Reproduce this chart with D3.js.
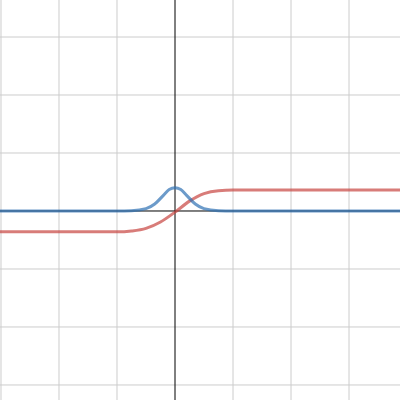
<!DOCTYPE html>
<html><head><meta charset="utf-8">
<script src="https://cdn.jsdelivr.net/npm/d3@7"></script>
<style>body{margin:0;background:#fff}</style>
</head><body><svg id="chart" width="400" height="400"></svg>
<script>
// values (x in grid units)
const blueX = [-3.1, -1.0, -0.75, -0.5, -0.35, -0.2, -0.1, 0, 0.1, 0.2, 0.35, 0.5, 0.75, 1.0, 4.0];
const blueY = [0, 0, 0.005, 0.04, 0.12, 0.27, 0.37, 0.40, 0.37, 0.27, 0.12, 0.04, 0.005, 0, 0];
const redX = [-3.1, -1.0, -0.75, -0.5, -0.25, 0, 0.25, 0.5, 0.75, 1.0, 4.0];
const redY = [-0.36, -0.36, -0.345, -0.30, -0.19, -0.02, 0.17, 0.30, 0.35, 0.36, 0.36];
const gridTicks = [-3, -2, -1, 1, 2, 3, 4];

const svg = d3.select('#chart');
const x = d3.scaleLinear().domain([-3.017, 3.879]).range([0, 400]);
const y = d3.scaleLinear().domain([-3.259, 3.638]).range([400, 0]);

svg.append('g').selectAll('line.gx').data(gridTicks).enter().append('line')
    .attr('x1', d => x(d)).attr('x2', d => x(d)).attr('y1', 0).attr('y2', 400)
    .attr('stroke', '#ccc').attr('stroke-width', 1);
svg.append('g').selectAll('line.gy').data(gridTicks).enter().append('line')
    .attr('y1', d => y(d)).attr('y2', d => y(d)).attr('x1', 0).attr('x2', 400)
    .attr('stroke', '#ccc').attr('stroke-width', 1);

// axes
svg.append('line').attr('x1', x(0)).attr('x2', x(0)).attr('y1', 0).attr('y2', 400).attr('stroke', '#000');
svg.append('line').attr('y1', y(0)).attr('y2', y(0)).attr('x1', 0).attr('x2', 400).attr('stroke', '#000');

const line = d3.line().x(d => x(d[0])).y(d => y(d[1])).curve(d3.curveMonotoneX);

svg.append('path').attr('d', line(d3.zip(redX, redY)))
    .attr('fill', 'none').attr('stroke', '#c74440').attr('stroke-opacity', 0.7).attr('stroke-width', 3);
svg.append('path').attr('d', line(d3.zip(blueX, blueY)))
    .attr('fill', 'none').attr('stroke', '#2d70b3').attr('stroke-opacity', 0.7).attr('stroke-width', 3);
</script></body></html>
